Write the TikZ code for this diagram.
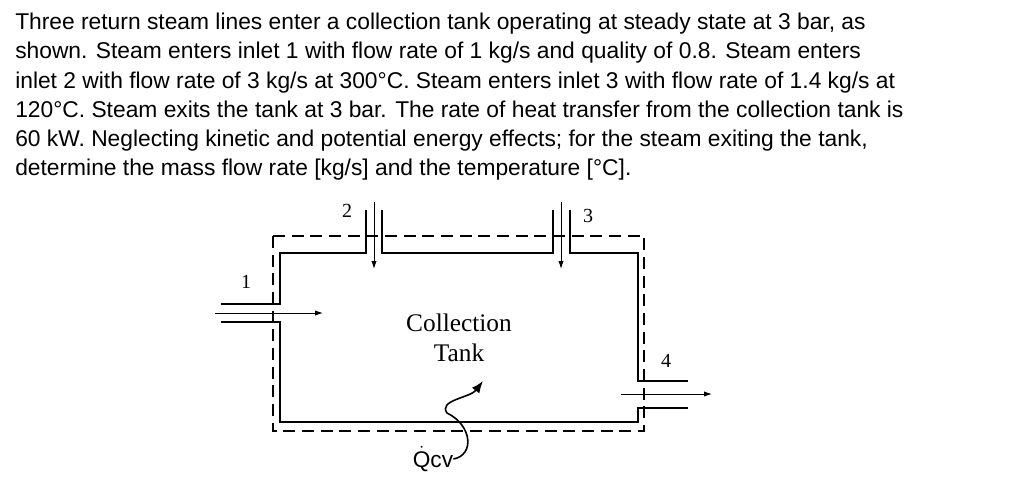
\documentclass[tikz,border=0pt]{standalone}
\usepackage{fontspec}
\setmainfont{Liberation Sans}
\newfontfamily\serifnum{Liberation Serif}
\usetikzlibrary{arrows.meta}
\begin{document}
\begin{tikzpicture}[x=0.75pt,y=-0.75pt,
  para/.style={anchor=base west,inner sep=0,font=\fontsize{17.1}{19}\selectfont},
  wall/.style={line width=1.4pt},
  cv/.style={line width=1.2pt,dash pattern=on 9pt off 5pt},
  flow/.style={line width=0.7pt,-{Latex[length=6pt,width=4pt]}},
  lbl/.style={font=\serifnum\fontsize{15}{17}\selectfont,inner sep=0},
  big/.style={font=\serifnum\fontsize{19}{21}\selectfont,inner sep=0}]
\useasboundingbox (0,0) rectangle (1024,482);
\node[para] (l1) at (15,29) {Three return steam lines enter a collection tank operating at steady state at 3 bar, as};
\node[para] (l2) at (15,58.5) {shown. Steam enters inlet 1 with flow rate of 1 kg/s and quality of 0.8. Steam enters};
\node[para] (l3) at (15,88) {inlet 2 with flow rate of 3 kg/s at 300°C. Steam enters inlet 3 with flow rate of 1.4 kg/s at};
\node[para] (l4) at (15,117) {120°C. Steam exits the tank at 3 bar. The rate of heat transfer from the collection tank is};
\node[para] (l5) at (15,146) {60 kW. Neglecting kinetic and potential energy effects; for the steam exiting the tank,};
\node[para] (l6) at (15,175) {determine the mass flow rate [kg/s] and the temperature [°C].};
% control volume
\draw[cv] (273,236) rectangle (644,431);
% tank walls
\draw[wall] (221,304) -- (280,304) -- (280,253) -- (366,253) -- (366,210);
\draw[wall] (382,210) -- (382,253) -- (553,253) -- (553,210);
\draw[wall] (570,210) -- (570,253) -- (638,253) -- (638,381) -- (688,381);
\draw[wall] (221,322) -- (280,322) -- (280,422) -- (638,422) -- (638,408) -- (688,408);
% flows
\coordinate (f1a) at (215,313); \coordinate (f1b) at (323,313);
\draw[flow] (f1a) -- (f1b);
\coordinate (f2a) at (374,202); \coordinate (f2b) at (374,269);
\draw[flow] (f2a) -- (f2b);
\coordinate (f3a) at (561,202); \coordinate (f3b) at (561,269);
\draw[flow] (f3a) -- (f3b);
\coordinate (f4a) at (621,394); \coordinate (f4b) at (712,394);
\draw[flow] (f4a) -- (f4b);
\node[lbl] (n1) at (246,282) {1};
\node[lbl] (n2) at (347,211) {2};
\node[lbl] (n3) at (588,216) {3};
\node[lbl] (n4) at (666,361) {4};
\node[big] (ct) at (459,323) {Collection};
\node[big] (tk) at (459,353) {Tank};
\node[inner sep=0,font=\fontsize{17}{19}\selectfont] (q) at (433,459) {$\dot{\mathrm{Q}}$cv};
\draw[line width=1.2pt,-{Latex[length=9pt,width=7pt]}] (q.east) .. controls (475,455) and (472,425) .. (447,413) .. controls (438,400) and (470,398) .. (483,381);
\end{tikzpicture}
\end{document}
